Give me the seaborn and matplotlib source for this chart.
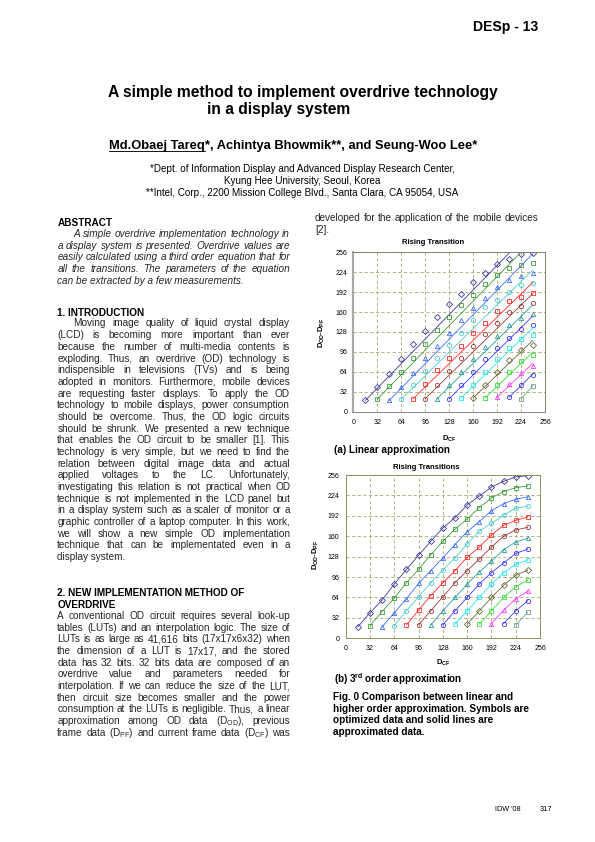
import numpy as np
import pandas as pd
import matplotlib
matplotlib.use("Agg")
import matplotlib.pyplot as plt
import seaborn as sns
from matplotlib.lines import Line2D

# ---------------- data ----------------
DCF_LEVELS = [16, 32, 48, 64, 80, 96, 112, 128, 144, 160, 176, 192, 208, 224, 240]
TICKS = [0, 32, 64, 96, 128, 160, 192, 224, 256]

S01 = [18, 40, 60, 85, 108, 130, 152, 173, 189, 209, 223, 237, 246, 253, 255]
S02 = [20, 42, 63, 87, 108, 131, 152, 171, 187, 205, 220, 230, 236, 239]
S03 = [18, 40, 62, 86, 106, 126, 147, 167, 183, 200, 211, 218, 222]
S04 = [20, 43, 65, 87, 107, 126, 148, 168, 180, 193, 204, 207]
S05 = [21, 44, 67, 87, 106, 127, 143, 162, 177, 185, 190]
S06 = [21, 43, 65, 87, 106, 124, 143, 160, 170, 174]
S07 = [21, 43, 64, 85, 104, 121, 139, 151, 157]
S08 = [21, 43, 64, 85, 103, 118, 133, 140]
S09 = [22, 43, 64, 85, 103, 116, 123]
S10 = [22, 43, 64, 83, 99, 107]
S11 = [22, 43, 64, 81, 91]
S12 = [23, 44, 62, 74]
S13 = [23, 43, 59]
S14 = [21, 41]
OPT_DATA = [S01, S02, S03, S04, S05, S06, S07, S08, S09, S10, S11, S12, S13, S14]

# linear approximation: value of each fitted line at D_CF = 240
LIN_END = [294, 276, 254, 228, 208, 190, 172, 154, 135, 115, 96, 78, 61, 42]

COLORS = ["#333399", "#339933", "#3366ff", "#44cccc", "#ff2222", "#993333",
          "#229999", "#3333ff", "#22e6e6", "#666633", "#33dd33", "#ff33ff",
          "#3333dd", "#66a088"]
MARKERS = ["D", "s", "^", "o", "s", "o", "^", "o", "s", "D", "s", "^", "o", "s"]

# ---------------- text ----------------
ABSTRACT = [
    "A simple overdrive implementation technology in",
    "a display system is presented. Overdrive values are",
    "easily calculated using a third order equation that for",
    "all the transitions. The parameters of the equation",
    "can be extracted by a few measurements.",
]
INTRO = [
    "Moving image quality of liquid crystal display",
    "(LCD) is becoming more important than ever",
    "because the number of multi-media contents is",
    "exploding. Thus, an overdrive (OD) technology is",
    "indispensible in televisions (TVs) and is being",
    "adopted in monitors. Furthermore, mobile devices",
    "are requesting faster displays. To apply the OD",
    "technology to mobile displays, power consumption",
    "should be overcome. Thus, the OD logic circuits",
    "should be shrunk. We presented a new technique",
    "that enables the OD circuit to be smaller [1]. This",
    "technology is very simple, but we need to find the",
    "relation between digital image data and actual",
    "applied voltages to the LC. Unfortunately,",
    "investigating this relation is not practical when OD",
    "technique is not implemented in the LCD panel but",
    "in a display system such as a scaler of monitor or a",
    "graphic controller of a laptop computer. In this work,",
    "we will show a new simple OD implementation",
    "technique that can be implementated even in a",
    "display system.",
]
SEC2 = [
    "A conventional OD circuit requires several look-up",
    "tables (LUTs) and an interpolation logic. The size of",
    "LUTs is as large as 41,616 bits (17x17x6x32) when",
    "the dimension of a LUT is 17x17, and the stored",
    "data has 32 bits. 32 bits data are composed of an",
    "overdrive value and parameters needed for",
    "interpolation. If we can reduce the size of the LUT,",
    "then circuit size becomes smaller and the power",
    "consumption at the LUTs is negligible. Thus, a linear",
    r"approximation among OD data (D$_{\mathrm{OD}}$), previous",
    r"frame data (D$_{\mathrm{PF}}$) and current frame data (D$_{\mathrm{CF}}$) was",
]
RIGHT_TOP = ["developed for the application of the mobile devices", "[2]."]
FIG_CAPTION = ["Fig. 0 Comparison between linear and",
               "higher order approximation. Symbols are",
               "optimized data and solid lines are",
               "approximated data."]

# ---------------- setup ----------------
sns.set_theme(style="white")
FONT = ["Liberation Sans", "DejaVu Sans"]
plt.rcParams["font.family"] = FONT
plt.rcParams["mathtext.fontset"] = "custom"
plt.rcParams["mathtext.rm"] = "Liberation Sans"
plt.rcParams["mathtext.it"] = "Liberation Sans:italic"
plt.rcParams["mathtext.bf"] = "Liberation Sans:bold"

W, H = 595, 842
fig = plt.figure(figsize=(W / 72, H / 72), dpi=72)
fig.patch.set_facecolor("white")
renderer = fig.canvas.get_renderer()


def X(x):
    return x / W


def Y(y):
    return 1 - y / H


def kwf(size, weight="normal", style="normal"):
    return dict(fontsize=size, fontweight=weight, fontstyle=style, family=FONT)


def measure(s, **kw):
    t = fig.text(0, 0, s, **kw)
    w = t.get_window_extent(renderer).width
    t.remove()
    return w


def put(s, x, yb, size, weight="normal", style="normal", ha="left", width=None,
        va="baseline", rotation=0, color="black"):
    if width is not None:
        size = size * width / measure(s, **kwf(size, weight, style))
    t = fig.text(X(x), Y(yb), s, ha=ha, va=va, rotation=rotation, color=color,
                 **kwf(size, weight, style))
    return size, t


def jline(s, x0, x1, yb, size=10, weight="normal", style="normal", justify=True):
    kw = kwf(size, weight, style)
    words = s.split(" ")
    if not justify or len(words) == 1:
        fig.text(X(x0), Y(yb), s, ha="left", va="baseline", **kw)
        return
    ws = [measure(w, **kw) for w in words]
    total = sum(ws)
    avail = x1 - x0
    gap = (avail - total) / (len(words) - 1)
    mingap = 1.8
    if gap < mingap:
        f = (avail - mingap * (len(words) - 1)) / total
        kw = kwf(size * f, weight, style)
        ws = [w * f for w in ws]
        gap = mingap
    x = x0
    for w, wd in zip(words, ws):
        fig.text(X(x), Y(yb), w, ha="left", va="baseline", **kw)
        x += wd + gap


# ---------------- page header ----------------
put("DESp - 13", 472.7, 30.7, 12, weight="bold", width=65.6)
tsize, _ = put("A simple method to implement overdrive technology", 108, 96.5, 15,
               weight="bold", width=387)
put("in a display system", 206.7, 114, tsize, weight="bold")

# authors
auth_full = "Md.Obaej Tareq*, Achintya Bhowmik**, and Seung-Woo Lee*"
asize = 11 * 370 / measure(auth_full, **kwf(11, "bold"))
first = "Md.Obaej Tareq"
w1 = measure(first, **kwf(asize, "bold"))
put(first, 109, 149.3, asize, weight="bold")
put("*, Achintya Bhowmik**, and Seung-Woo Lee*", 109 + w1, 149.3, asize, weight="bold")
fig.add_artist(Line2D([X(109), X(109 + w1)], [Y(151.2), Y(151.2)], color="black", lw=0.9))

aff = ["*Dept. of Information Display and Advanced Display Research Center,",
       "Kyung Hee University, Seoul, Korea",
       "**Intel, Corp., 2200 Mission College Blvd., Santa Clara, CA 95054, USA"]
afsize = 9 * 314 / measure(aff[2], **kwf(9))
for i, line in enumerate(aff):
    put(line, 302, 172.5 + 12 * i, afsize, ha="center")

# ---------------- left column ----------------
LX0, LX1 = 57.3, 290
LS = 11.67
put("ABSTRACT", LX0, 226, 10, weight="bold")
for i, line in enumerate(ABSTRACT):
    x0 = 73.5 if i == 0 else LX0
    jline(line, x0, LX1, 237 + i * LS, 10, style="italic", justify=i < len(ABSTRACT) - 1)

put("1. INTRODUCTION", LX0, 316, 10, weight="bold")
for i, line in enumerate(INTRO):
    x0 = 73.5 if i == 0 else LX0
    jline(line, x0, LX1, 326.5 + i * LS, 10, justify=i < len(INTRO) - 1)

put("2. NEW IMPLEMENTATION METHOD OF", LX0, 596, 10, weight="bold")
put("OVERDRIVE", LX0, 607.7, 10, weight="bold")
for i, line in enumerate(SEC2):
    jline(line, LX0, LX1, 619 + i * LS, 10, justify=True)

# ---------------- right column ----------------
RX0, RX1 = 315, 538.5
jline(RIGHT_TOP[0], RX0, RX1, 221.3, 10, justify=True)
jline(RIGHT_TOP[1], RX0, RX1, 233, 10, justify=False)


def draw_chart(rect, mode, title, title_xy, title_w, xlab_xy, ylab_xy, xpad, ypad):
    l, t, r, b = rect
    ax = fig.add_axes([X(l), Y(b), (r - l) / W, (b - t) / H])
    ax.set_facecolor("white")
    for k, (vals, color, marker) in enumerate(zip(OPT_DATA, COLORS, MARKERS)):
        xs = DCF_LEVELS[k:]
        df = pd.DataFrame({"DCF": xs, "DOD": vals})
        if mode == "linear":
            sns.lineplot(data=df, x="DCF", y="DOD", ax=ax, color=color, marker=marker,
                         linestyle="none", mfc="none", mec=color, mew=0.8, ms=4.3)
            ldf = pd.DataFrame({"DCF": [xs[0], xs[-1]], "DOD": [vals[0], LIN_END[k]]})
            sns.lineplot(data=ldf, x="DCF", y="DOD", ax=ax, color=color, lw=0.8)
        else:
            sns.lineplot(data=df, x="DCF", y="DOD", ax=ax, color=color, marker=marker,
                         lw=0.8, mfc="none", mec=color, mew=0.8, ms=4.3)
    ax.set_xlim(0, 256)
    ax.set_ylim(0, 256)
    ax.set_xticks(TICKS)
    ax.set_yticks(TICKS)
    ax.set_xlabel("")
    ax.set_ylabel("")
    ax.tick_params(axis="both", length=0, labelsize=7, colors="black")
    ax.tick_params(axis="x", pad=xpad)
    ax.tick_params(axis="y", pad=ypad)
    for lab in ax.get_xticklabels() + ax.get_yticklabels():
        lab.set_family(FONT)
    ax.grid(True, linestyle=(0, (4, 3)), color="#a3a36a", lw=0.8)
    ax.set_axisbelow(True)
    if mode == "linear":
        for sp in ["top", "right"]:
            ax.spines[sp].set_color("#7a7a5a")
            ax.spines[sp].set_linewidth(0.9)
        ax.spines["left"].set_color("#a8a8a8")
        ax.spines["left"].set_linewidth(2.2)
        ax.spines["bottom"].set_color("#8a8a8a")
        ax.spines["bottom"].set_linewidth(1.0)
    else:
        for sp in ax.spines.values():
            sp.set_color("#8a8a50")
            sp.set_linewidth(0.9)
    put(title, title_xy[0], title_xy[1], 7.5, weight="bold", ha="center", width=title_w)
    put(r"D$_{\mathbf{CF}}$", xlab_xy[0], xlab_xy[1], 7.5, weight="bold", ha="center")
    put(r"D$_{\mathbf{OD}}$-D$_{\mathbf{PF}}$", ylab_xy[0], ylab_xy[1], 7.5, weight="bold",
        ha="center", va="center", rotation=90)
    return ax


draw_chart((353.3, 252.3, 545, 411.7), "linear", "Rising Transition", (433, 243.5), 62,
           (449, 441), (321.7, 333), 7.5, 6)
csize, _ = put("(a) Linear approximation", 334.3, 453.3, 9.5, weight="bold", width=115.7)

draw_chart((345.7, 475, 540, 638.3), "cubic", "Rising Transitions", (426, 469), 66.7,
           (443.3, 664.5), (315.5, 555), 7, 6.5)
put(r"(b) 3$^{\mathbf{rd}}$ order approximation", 334.3, 683, csize, weight="bold")

fsize = 9 * 195 / measure(FIG_CAPTION[1], **kwf(9, "bold"))
for i, line in enumerate(FIG_CAPTION):
    put(line, 333.3, 700 + i * 11.67, fsize, weight="bold")

# footer
put("IDW '08", 495, 811, 7.2)
put("317", 540, 811, 7.5)

fig.savefig("out.png", dpi=72, facecolor="white")
